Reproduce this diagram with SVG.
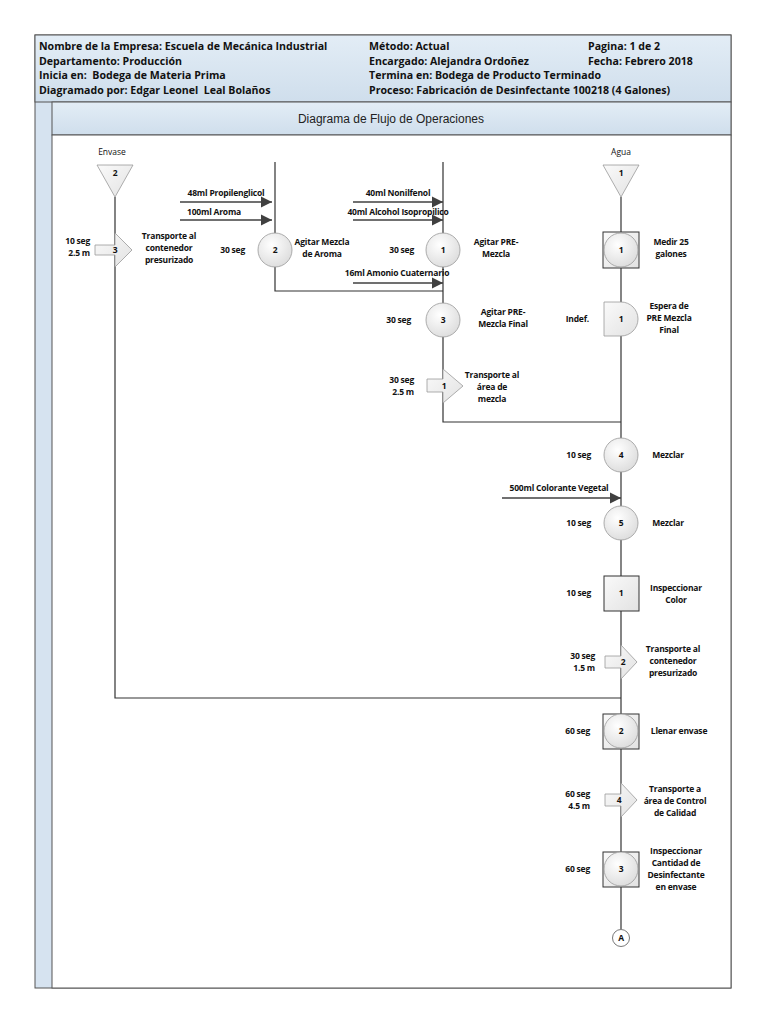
<svg xmlns="http://www.w3.org/2000/svg" width="768" height="1024" viewBox="0 0 768 1024">
<defs>
<linearGradient id="hg" x1="0" y1="0" x2="0" y2="1"><stop offset="0" stop-color="#e3edf6"/><stop offset="1" stop-color="#cfdeec"/></linearGradient>
<radialGradient id="cg" cx="0.4" cy="0.35" r="0.7"><stop offset="0" stop-color="#ffffff"/><stop offset="1" stop-color="#dcdcdc"/></radialGradient>
<linearGradient id="sg" x1="0" y1="0" x2="1" y2="1"><stop offset="0" stop-color="#fafafa"/><stop offset="1" stop-color="#e2e2e2"/></linearGradient>
<marker id="ar" viewBox="0 0 10 10" refX="10" refY="5" markerWidth="7" markerHeight="7" orient="auto"><path d="M0,0 L10,5 L0,10 z" fill="#404040"/></marker>
</defs>
<style>
.h{font-family:"Open Sans","Liberation Sans",sans-serif;font-weight:bold;font-size:10.6px;fill:#111}
.t{font-family:"Open Sans","Liberation Sans",sans-serif;font-weight:bold;font-size:8.5px;fill:#111;letter-spacing:-0.2px}
.n{font-family:"Open Sans","Liberation Sans",sans-serif;font-size:8.5px;fill:#111}
.c{text-anchor:middle}
.e{text-anchor:end}
.ln{stroke:#333;stroke-width:1.2;fill:none}
.in{stroke:#404040;stroke-width:1.6;fill:none}
.sh{fill:url(#cg);stroke:#999;stroke-width:0.8}
.sq{fill:url(#sg);stroke:#333;stroke-width:1}
.ar{fill:url(#sg);stroke:#999;stroke-width:0.8}
</style>
<rect width="768" height="1024" fill="#fff"/>
<rect x="35" y="35" width="696" height="953" fill="#d6e3f0" stroke="#555" stroke-width="1"/>
<rect x="35" y="35" width="696" height="67" fill="url(#hg)" stroke="#555" stroke-width="1"/>
<rect x="52" y="102" width="679" height="33" fill="url(#hg)" stroke="#555" stroke-width="1"/>
<rect x="52" y="135" width="679" height="853" fill="#fff" stroke="#555" stroke-width="1"/>
<g id="header">
<text class="h" x="39" y="50">Nombre de la Empresa: Escuela de Mecánica Industrial</text>
<text class="h" x="39" y="65">Departamento: Producción</text>
<text class="h" x="39" y="79" xml:space="preserve">Inicia en:  Bodega de Materia Prima</text>
<text class="h" x="39" y="94" xml:space="preserve">Diagramado por: Edgar Leonel  Leal Bolaños</text>
<text class="h" x="369" y="50">Método: Actual</text>
<text class="h" x="369" y="65">Encargado: Alejandra Ordoñez</text>
<text class="h" x="369" y="79">Termina en: Bodega de Producto Terminado</text>
<text class="h" x="369" y="94">Proceso: Fabricación de Desinfectante 100218 (4 Galones)</text>
<text class="h" x="588" y="50">Pagina: 1 de 2</text>
<text class="h" x="588" y="65">Fecha: Febrero 2018</text>
<text x="391" y="123" text-anchor="middle" font-family="Liberation Sans,Arial,sans-serif" font-size="12" fill="#222">Diagrama de Flujo de Operaciones</text>
</g>
<g id="connectors">
<path class="ln" d="M115,197 V698 H621"/>
<path class="ln" d="M275,162 V291 H443"/>
<path class="ln" d="M443,162 V422 H621"/>
<path class="ln" d="M621,197 V929"/>
<path class="in" d="M180,202 H272" marker-end="url(#ar)"/>
<path class="in" d="M180,220 H272" marker-end="url(#ar)"/>
<path class="in" d="M353,202 H443" marker-end="url(#ar)"/>
<path class="in" d="M353,220 H443" marker-end="url(#ar)"/>
<path class="in" d="M353,283 H443" marker-end="url(#ar)"/>
<path class="in" d="M502,498 H621" marker-end="url(#ar)"/>
<text class="t c" x="226" y="196">48ml Propilenglicol</text>
<text class="t c" x="214" y="215">100ml Aroma</text>
<text class="t c" x="398" y="196">40ml Nonilfenol</text>
<text class="t c" x="398" y="215">40ml Alcohol Isopropilico</text>
<text class="t c" x="397" y="276">16ml Amonio Cuaternario</text>
<text class="t c" x="559" y="491">500ml Colorante Vegetal</text>
</g>
<g id="envase"><path class="ar" d="M97,165 H133 L115,197 z"/><text class="t c" x="115" y="176">2</text><text class="n c" x="112" y="155">Envase</text></g>
<g id="agua"><path class="ar" d="M603,165 H639 L621,197 z"/><text class="t c" x="621" y="176">1</text><text class="n c" x="621" y="155">Agua</text></g>
<g id="t3"><path class="ar" d="M95,245 H115 V233 L132,250 L115,267 V255 H95 z"/><text class="t c" x="115" y="253">3</text>
<text class="t e" x="90" y="244">10 seg</text><text class="t e" x="90" y="256">2.5 m</text>
<text class="t c" x="169" y="239">Transporte al</text><text class="t c" x="169" y="251">contenedor</text><text class="t c" x="169" y="263">presurizado</text></g>
<g id="o2"><circle class="sh" cx="275" cy="250" r="17"/><text class="t c" x="275" y="253">2</text><text class="t e" x="245" y="253">30 seg</text>
<text class="t c" x="322" y="245">Agitar Mezcla</text><text class="t c" x="322" y="257">de Aroma</text></g>
<g id="o1"><circle class="sh" cx="443" cy="250" r="17"/><text class="t c" x="443" y="253">1</text><text class="t e" x="414" y="253">30 seg</text>
<text class="t c" x="496" y="245">Agitar PRE-</text><text class="t c" x="496" y="257">Mezcla</text></g>
<g id="o3"><circle class="sh" cx="443" cy="320" r="17"/><text class="t c" x="443" y="323">3</text><text class="t e" x="411" y="323">30 seg</text>
<text class="t c" x="503" y="315">Agitar PRE-</text><text class="t c" x="503" y="327">Mezcla Final</text></g>
<g id="t1"><path class="ar" d="M427,379 H443 V369 L463,386 L443,403 V392 H427 z"/><text class="t c" x="444" y="389">1</text>
<text class="t e" x="414" y="383">30 seg</text><text class="t e" x="414" y="395">2.5 m</text>
<text class="t c" x="492" y="378">Transporte al</text><text class="t c" x="492" y="390">área de</text><text class="t c" x="492" y="402">mezcla</text></g>
<g id="c1"><rect class="sq" x="603" y="232" width="36" height="36"/><circle class="sh" cx="621" cy="250" r="17"/><text class="t c" x="621" y="253">1</text>
<text class="t c" x="671" y="245">Medir 25</text><text class="t c" x="671" y="257">galones</text></g>
<g id="d1"><path class="ar" d="M604,302 H621 A17,17 0 0 1 621,336 H604 z"/><text class="t c" x="621" y="322">1</text><text class="t e" x="589" y="322">Indef.</text>
<text class="t c" x="669" y="309">Espera de</text><text class="t c" x="669" y="321">PRE Mezcla</text><text class="t c" x="669" y="333">Final</text></g>
<g id="o4"><circle class="sh" cx="621" cy="455" r="17"/><text class="t c" x="621" y="458">4</text><text class="t e" x="591" y="458">10 seg</text><text class="t c" x="668" y="458">Mezclar</text></g>
<g id="o5"><circle class="sh" cx="621" cy="523" r="17"/><text class="t c" x="621" y="526">5</text><text class="t e" x="591" y="526">10 seg</text><text class="t c" x="668" y="526">Mezclar</text></g>
<g id="i1"><rect class="sq" x="604" y="576" width="35" height="35"/><text class="t c" x="621" y="596">1</text><text class="t e" x="591" y="596">10 seg</text>
<text class="t c" x="676" y="591">Inspeccionar</text><text class="t c" x="676" y="603">Color</text></g>
<g id="t2"><path class="ar" d="M605,656 H621 V645 L637,662 L621,679 V668 H605 z"/><text class="t c" x="623" y="665">2</text>
<text class="t e" x="595" y="659">30 seg</text><text class="t e" x="595" y="671">1.5 m</text>
<text class="t c" x="673" y="652">Transporte al</text><text class="t c" x="673" y="664">contenedor</text><text class="t c" x="673" y="676">presurizado</text></g>
<g id="c2"><rect class="sq" x="603" y="714" width="36" height="35"/><circle class="sh" cx="621" cy="731" r="17"/><text class="t c" x="621" y="734">2</text><text class="t e" x="590" y="734">60 seg</text><text class="t c" x="679" y="734">Llenar envase</text></g>
<g id="t4"><path class="ar" d="M605,794 H621 V783 L637,800 L621,817 V806 H605 z"/><text class="t c" x="619" y="803">4</text>
<text class="t e" x="590" y="797">60 seg</text><text class="t e" x="590" y="809">4.5 m</text>
<text class="t c" x="675" y="792">Transporte a</text><text class="t c" x="675" y="804">área de Control</text><text class="t c" x="675" y="816">de Calidad</text></g>
<g id="c3"><rect class="sq" x="603" y="852" width="36" height="35"/><circle class="sh" cx="621" cy="869" r="17"/><text class="t c" x="621" y="872">3</text><text class="t e" x="590" y="872">60 seg</text>
<text class="t c" x="676" y="854">Inspeccionar</text><text class="t c" x="676" y="866">Cantidad de</text><text class="t c" x="676" y="878">Desinfectante</text><text class="t c" x="676" y="890">en envase</text></g>
<g id="A"><circle cx="621" cy="938" r="8.5" fill="#fff" stroke="#555" stroke-width="0.8"/><text class="t c" x="621" y="941">A</text></g>
</svg>
